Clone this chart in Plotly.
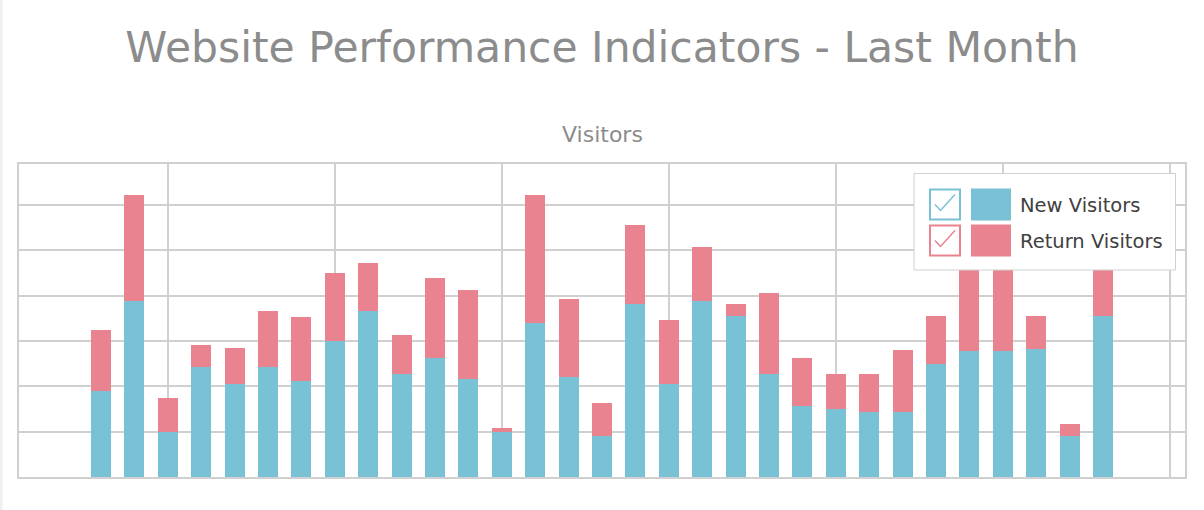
import plotly.graph_objects as go

# ---- data ----
days = list(range(1, 32))
new_visitors = [95, 194, 50, 121, 103, 121, 106, 150, 183, 113,
                131, 108, 50, 170, 110, 45, 191, 103, 194, 178,
                113, 78, 75, 72, 72, 125, 139, 139, 141, 45, 178]
return_visitors = [67, 117, 37, 24, 39, 62, 70, 75, 53, 43,
                   88, 98, 4, 141, 86, 37, 87, 70, 60, 13,
                   90, 53, 38, 41, 68, 53, 123, 112, 37, 13, 89]
series_names = ["New Visitors", "Return Visitors"]
series_colors = ["#79C1D5", "#E9838F"]
chart_title = "Website Performance Indicators - Last Month"
axis_title = "Visitors"

W, H = 1204, 510
L, R, T, B = 19, 19, 164, 33
PW, PH = W - L - R, H - T - B
FONT = "DejaVu Sans, sans-serif"


def px(x):
    return (x - L) / PW


def py(y):
    return (H - B - y) / PH


fig = go.Figure()
for name, vals, col in zip(series_names, [new_visitors, return_visitors], series_colors):
    fig.add_trace(go.Bar(x=days, y=vals, name=name, marker=dict(color=col, line=dict(width=0)),
                         showlegend=False))

grid = "#D0D0D0"
fig.update_layout(
    width=W, height=H,
    barmode="stack", bargap=0.4,
    paper_bgcolor="white", plot_bgcolor="white",
    margin=dict(l=L, r=R, t=T, b=B),
    title=dict(text=chart_title, x=0.5, xanchor="center", xref="paper",
               y=1 - 47 / H, yanchor="middle", yref="container",
               font=dict(family=FONT, size=42.5, color="#8C8C8C")),
    xaxis=dict(range=[-1.455, 33.455], tick0=3, dtick=5, showgrid=True, gridcolor=grid, gridwidth=2,
               showticklabels=False, ticks="", zeroline=False,
               showline=True, linecolor=grid, linewidth=2, mirror=True),
    yaxis=dict(range=[0, 345], tick0=0, dtick=50, showgrid=True, gridcolor=grid, gridwidth=2,
               showticklabels=False, ticks="", zeroline=False,
               showline=True, linecolor=grid, linewidth=2, mirror=True),
    font=dict(family=FONT),
)

shapes = []
annotations = []
# axis title above plot
annotations.append(dict(text=axis_title, x=0.5, y=py(134), xref="paper", yref="paper",
                        xanchor="center", yanchor="middle", showarrow=False,
                        font=dict(size=22, color="#8C8C8C")))
# left page strip
shapes.append(dict(type="rect", xref="paper", yref="paper", x0=px(0), x1=px(2.5), y0=py(H), y1=py(0),
                   fillcolor="#EFEFEF", line=dict(width=0), layer="below"))
# custom legend box
shapes.append(dict(type="rect", xref="paper", yref="paper", x0=px(914), x1=px(1175.5), y0=py(270), y1=py(173.5),
                   fillcolor="white", line=dict(color="#D0D0D0", width=1), layer="above"))
rows = [204.5, 240.5]
for name, col, cy in zip(series_names, series_colors, rows):
    # checkbox
    shapes.append(dict(type="rect", xref="paper", yref="paper", x0=px(930), x1=px(960), y0=py(cy + 15), y1=py(cy - 15),
                       fillcolor="white", line=dict(color=col, width=2), layer="above"))
    path = "M {:.5f} {:.5f} L {:.5f} {:.5f} L {:.5f} {:.5f}".format(
        px(935), py(cy), px(940.5), py(cy + 6), px(955), py(cy - 10))
    shapes.append(dict(type="path", xref="paper", yref="paper", path=path,
                       line=dict(color=col, width=1.5), layer="above"))
    # swatch
    shapes.append(dict(type="rect", xref="paper", yref="paper", x0=px(971), x1=px(1011), y0=py(cy + 16), y1=py(cy - 16),
                       fillcolor=col, line=dict(width=0), layer="above"))
    annotations.append(dict(text=name, x=px(1018), y=py(cy + 1), xref="paper", yref="paper",
                            xanchor="left", yanchor="middle", showarrow=False,
                            font=dict(size=19.5, color="#404040")))

fig.update_layout(shapes=shapes, annotations=annotations)
fig.write_html("out.html", config={"displayModeBar": False},
               post_script="document.body.style.margin='0';document.body.style.overflow='hidden';")
